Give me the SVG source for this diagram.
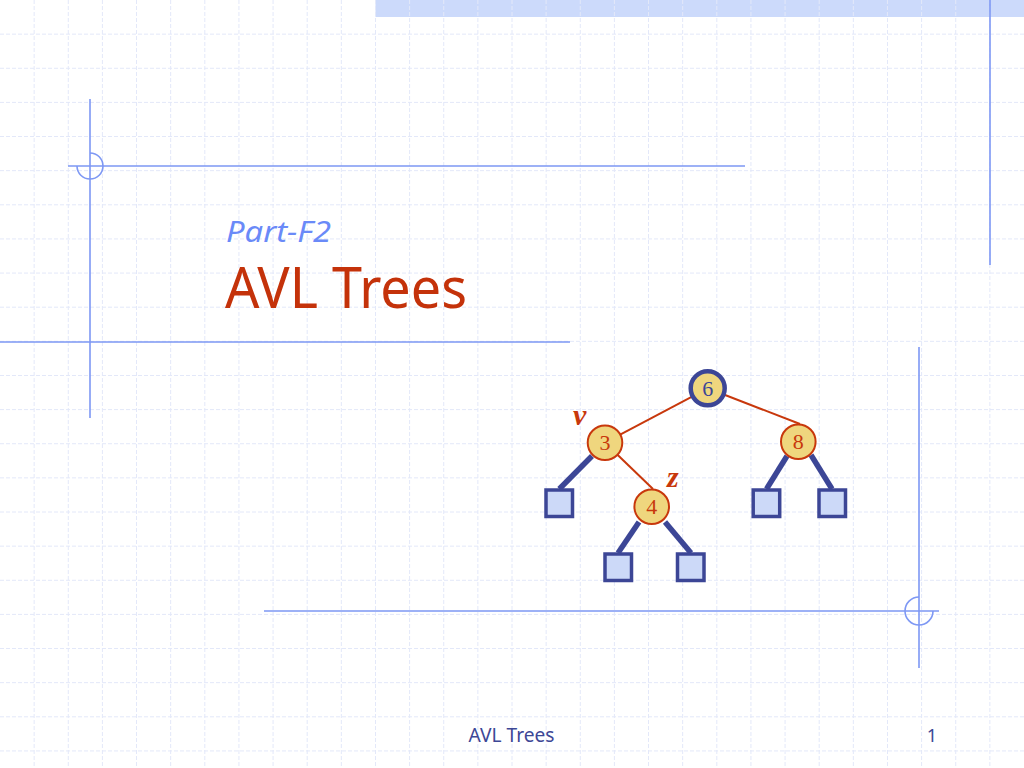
<svg xmlns="http://www.w3.org/2000/svg" width="1024" height="768" viewBox="0 0 1024 768">
<style>
.grid{stroke:#E3E8F9;stroke-width:1;stroke-dasharray:4 2;fill:none}
.deco{stroke:#7E98F4;stroke-width:1.6;fill:none}
.redge{stroke:#C8380C;stroke-width:2;fill:none}
.bedge{stroke:#3C4696;stroke-width:5.5;fill:none}
.inode{fill:#EFD67E;stroke:#C8380C;stroke-width:2}
.root{fill:#EFD67E;stroke:#3C4696;stroke-width:4.5}
.leaf{fill:#CCD9F8;stroke:#3C4696;stroke-width:3.5}
.num{font-family:"Liberation Serif","Times New Roman",serif;font-size:22px;text-anchor:middle}
.lab{font-family:"Liberation Serif","Times New Roman",serif;font-size:30px;font-weight:bold;font-style:italic;fill:#C8380C}
</style>
<rect x="0" y="0" width="1024" height="768" fill="#FFFFFF"/>
<rect x="375.5" y="0" width="648.5" height="17" fill="#CCDAFB"/>
<g id="grid">
<path class="grid" d="M0 34.13H1024M0 68.27H1024M0 102.4H1024M0 136.53H1024M0 170.67H1024M0 204.8H1024M0 238.93H1024M0 273.07H1024M0 307.2H1024M0 341.33H1024M0 375.47H1024M0 409.6H1024M0 443.73H1024M0 477.87H1024M0 512H1024M0 546.13H1024M0 580.27H1024M0 614.4H1024M0 648.53H1024M0 682.67H1024M0 716.8H1024M0 750.93H1024"/>
<path class="grid" d="M34.13 0V768M68.27 0V768M102.4 0V768M136.53 0V768M170.67 0V768M204.8 0V768M238.93 0V768M273.07 0V768M307.2 0V768M341.33 0V768M375.47 0V768M409.6 0V768M443.73 0V768M477.87 0V768M512 0V768M546.13 0V768M580.27 0V768M614.4 0V768M648.53 0V768M682.67 0V768M716.8 0V768M750.93 0V768M785.07 0V768M819.2 0V768M853.33 0V768M887.47 0V768M921.6 0V768M955.73 0V768M989.87 0V768"/>
</g>
<g id="decor">
<path class="deco" d="M90 99V418M68 166H745M0 342H570M990 0V265M919 347V668M264 611H939"/>
<path class="deco" d="M90 153A13 13 0 1 1 77 166"/>
<path class="deco" d="M919 597A14 14 0 1 0 933 611"/>
</g>
<text x="226" y="242" font-family="Noto Sans,DejaVu Sans,sans-serif" font-size="29" font-style="italic" fill="#6A8AF8" textLength="105" lengthAdjust="spacingAndGlyphs">Part-F2</text>
<text x="225" y="307.5" font-family="Noto Sans,DejaVu Sans,sans-serif" font-size="56" fill="#C4320A" textLength="242" lengthAdjust="spacingAndGlyphs">AVL Trees</text>
<g id="connectors">
<path class="redge" d="M707.7 388.3L605 442.7"/>
<path class="redge" d="M707.7 388.3L800 424"/>
<path class="redge" d="M605 442.7L653 489"/>
<path class="bedge" d="M592 456L559.3 489"/>
<path class="bedge" d="M787 456L766.5 489"/>
<path class="bedge" d="M811 455L832 489"/>
<path class="bedge" d="M639 522L618 553"/>
<path class="bedge" d="M665 522L691 553"/>
</g>
<g id="node-6"><circle class="root" cx="707.7" cy="388.3" r="17"/><text class="num" x="707.7" y="396" fill="#3C4696">6</text></g>
<g id="node-3"><circle class="inode" cx="605" cy="442.7" r="17.3"/><text class="num" x="605" y="450.4" fill="#C8380C">3</text></g>
<g id="node-8"><circle class="inode" cx="798.3" cy="441.7" r="17.3"/><text class="num" x="798.3" y="449.4" fill="#C8380C">8</text></g>
<g id="node-4"><circle class="inode" cx="651.7" cy="506.7" r="17.3"/><text class="num" x="651.7" y="514.4" fill="#C8380C">4</text></g>
<g id="leaf-3L"><rect class="leaf" x="546" y="490" width="26.5" height="26.5"/></g>
<g id="leaf-4L"><rect class="leaf" x="605" y="554" width="26.5" height="26.5"/></g>
<g id="leaf-4R"><rect class="leaf" x="677.5" y="554" width="26.5" height="26.5"/></g>
<g id="leaf-8L"><rect class="leaf" x="753.2" y="490" width="26.5" height="26.5"/></g>
<g id="leaf-8R"><rect class="leaf" x="819" y="490" width="26.5" height="26.5"/></g>
<text class="lab" x="573" y="425">v</text>
<text class="lab" x="667" y="487">z</text>
<text x="511.5" y="741.5" font-family="Noto Sans,DejaVu Sans,sans-serif" font-size="20" fill="#3D4796" text-anchor="middle" textLength="86" lengthAdjust="spacingAndGlyphs">AVL Trees</text>
<text x="932" y="741.5" font-family="Noto Sans,DejaVu Sans,sans-serif" font-size="18" fill="#3D4796" text-anchor="middle">1</text>
</svg>
